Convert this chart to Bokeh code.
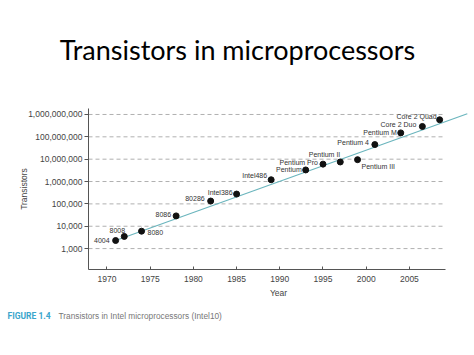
from bokeh.plotting import figure
from bokeh.models import Range1d, ColumnDataSource, FixedTicker, NumeralTickFormatter
from bokeh.embed import file_html
from bokeh.resources import INLINE
from bokeh.core.properties import value

# ---- data ----
chips = ["4004", "8008", "8080", "8086", "80286", "Intel386", "Intel486", "Pentium",
         "Pentium Pro", "Pentium II", "Pentium III", "Pentium 4", "Pentium M",
         "Core 2 Duo", "Core 2 Quad"]
years = [1971, 1972, 1974, 1978, 1982, 1985, 1989, 1993, 1995, 1997, 1999, 2001,
         2004, 2006.5, 2008.5]
transistors = [2300, 3500, 6000, 29000, 134000, 275000, 1200000, 3300000, 6000000,
               7500000, 9500000, 45000000, 150000000, 291000000, 580000000]
trend_years = [1971, 2011.7]
trend_values = [2300, 1.07e9]
y_ticks = [1e3, 1e4, 1e5, 1e6, 1e7, 1e8, 1e9]
x_ticks = [1970, 1975, 1980, 1985, 1990, 1995, 2000, 2005]
title_text = "Transistors in microprocessors"
caption_fig = "FIGURE 1.4"
caption_text = "Transistors in Intel microprocessors (Intel10)"

# ---- label placement (style; screen px, +dy = down) ----
lab_dx = [-6, -7, 6, -5, -6, -4, -4, -4, -5, 0, 4, -6, -4, -6, -3]
lab_dy = [0, -6, 1, -1, -3, -2, -4, 0, -2, -7, 7, -2, 0, -2, -3]
lab_align = ["right", "center", "left", "right", "right", "right", "right", "right",
             "right", "right", "left", "right", "right", "right", "right"]

X0, X1 = 1967.86, 2011.84
AX_END = 2009.17


def strip(h):
    f = figure(width=474, height=h, x_range=Range1d(0, 474), y_range=Range1d(h, 0),
               output_backend="svg", toolbar_location=None, min_border=0)
    f.axis.visible = False
    f.grid.visible = False
    f.outline_line_color = None
    return f


# title strip
t = strip(80)
t.text(x=[237], y=[49], text=[title_text], text_align="center",
       text_baseline="alphabetic", text_font=value("Lato"),
       text_font_size="27px", text_color="#000000")

p = figure(width=474, height=220, x_range=Range1d(X0, X1),
           y_range=Range1d(116, 1.85e9), y_axis_type="log",
           output_backend="svg", toolbar_location=None,
           min_border_left=88, min_border_right=6, min_border_top=28,
           min_border_bottom=30)
p.outline_line_color = None
p.xgrid.visible = False
p.ygrid.visible = False

# gridlines
p.segment(x0=[X0] * len(y_ticks), x1=[2008.9] * len(y_ticks), y0=y_ticks, y1=y_ticks,
          line_color="#b0b0b0", line_width=1, line_dash="4 3")

# trend line
p.line(trend_years, trend_values, line_color="#6ab5bd", line_width=1.1)

src = ColumnDataSource(dict(x=years, y=transistors, name=chips, dx=lab_dx,
                            dy=lab_dy, al=lab_align))
p.scatter("x", "y", source=src, size=6, color="#111111")
p.text("x", "y", text="name", source=src, x_offset="dx", y_offset="dy",
       text_align="al", text_baseline="middle", text_font=value("Liberation Sans"),
       text_font_size="7px", text_color="#333333")

# axes
p.xaxis.ticker = FixedTicker(ticks=x_ticks)
p.xaxis.bounds = (X0, AX_END)
p.xaxis.major_tick_in = 3
p.xaxis.major_tick_out = 0
p.xaxis.minor_tick_line_color = None
p.xaxis.major_label_standoff = 6
p.xaxis.axis_label = "Year"
p.xaxis.axis_label_standoff = 3

p.yaxis.ticker = FixedTicker(ticks=y_ticks)
p.yaxis.formatter = NumeralTickFormatter(format="0,0")
p.yaxis.major_tick_in = 0
p.yaxis.major_tick_out = 4
p.yaxis.minor_tick_line_color = None
p.yaxis.major_label_standoff = 2
p.yaxis.axis_label = "Transistors"
p.yaxis.axis_label_standoff = -4

for ax in (p.xaxis, p.yaxis):
    ax.axis_line_color = "#555555"
    ax.major_tick_line_color = "#555555"
    ax.major_label_text_font = "Liberation Sans"
    ax.major_label_text_font_size = "8.5px"
    ax.major_label_text_color = "#444444"
    ax.axis_label_text_font = "Liberation Sans"
    ax.axis_label_text_font_size = "8.5px"
    ax.axis_label_text_font_style = "normal"
    ax.axis_label_text_color = "#444444"

# caption strip
c = strip(55)
c.text(x=[7], y=[15], text=[caption_fig], text_baseline="middle",
       text_font=value("Roboto"), text_font_size="8.5px",
       text_font_style="bold", text_color="#3aa6cc")
c.text(x=[58], y=[15], text=[caption_text], text_baseline="middle",
       text_font=value("Liberation Sans"), text_font_size="8.3px",
       text_color="#777777")

open("out.html", "w").write(file_html([t, p, c], INLINE))
